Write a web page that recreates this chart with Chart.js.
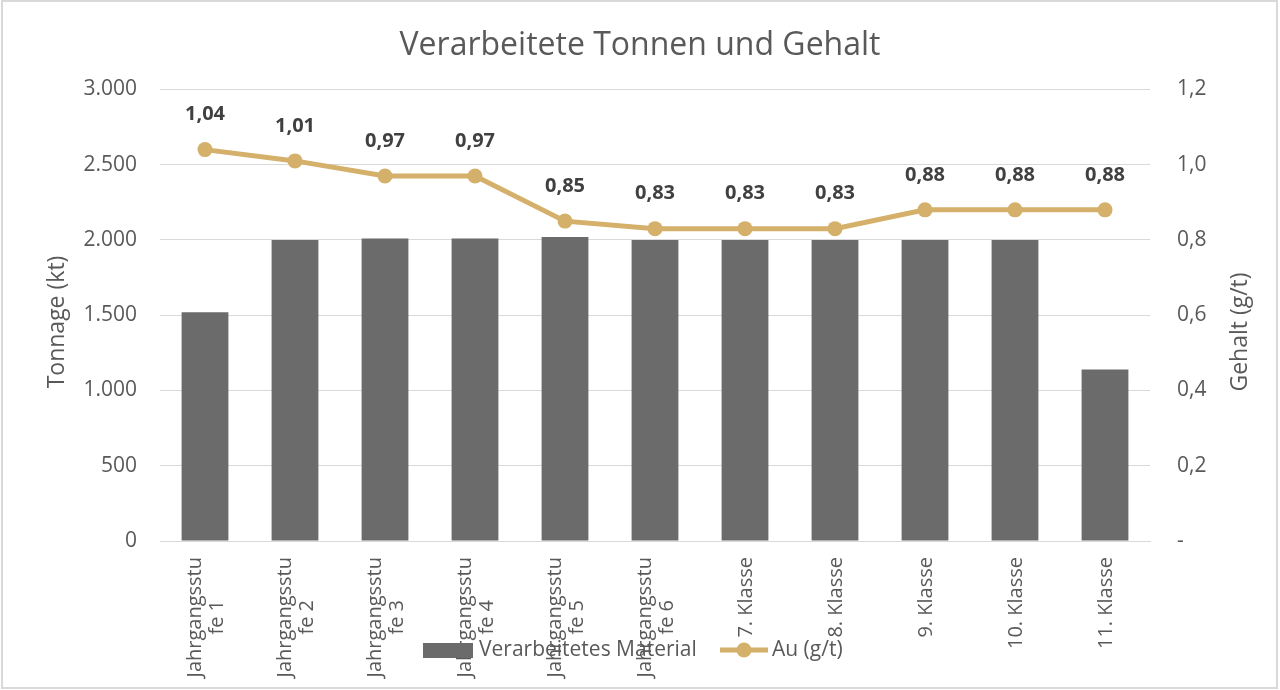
<!DOCTYPE html>
<html>
<head>
<meta charset="utf-8">
<script src="https://cdn.jsdelivr.net/npm/chart.js@4"></script>
<style>
  body { margin: 0; background: #fff; }
  #wrap { width: 1280px; height: 690px; }
</style>
</head>
<body>
<div id="wrap"><canvas id="chart" width="1280" height="690"></canvas></div>
<script>
// categories and values
const categories = [
    ['Jahrgangsstu', 'fe 1'], ['Jahrgangsstu', 'fe 2'], ['Jahrgangsstu', 'fe 3'],
    ['Jahrgangsstu', 'fe 4'], ['Jahrgangsstu', 'fe 5'], ['Jahrgangsstu', 'fe 6'],
    '7. Klasse', '8. Klasse', '9. Klasse', '10. Klasse', '11. Klasse'
];
const tonnage = [1520, 2000, 2010, 2010, 2020, 2000, 2000, 2000, 2000, 2000, 1140];
const gehalt = [1.04, 1.01, 0.97, 0.97, 0.85, 0.83, 0.83, 0.83, 0.88, 0.88, 0.88];
const axisTitles = ['Tonnage (kt)', 'Gehalt (g/t)'];

const barColor = '#6b6b6b';
const lineColor = '#d4b06a';
const textColor = '#595959';
const fontFamily = '"Open Sans", sans-serif';

function deNumber(v, digits) {
    return v.toFixed(digits).replace('.', ',');
}

// values above line points
const pointLabels = {
    id: 'pointLabels',
    afterDatasetsDraw(chart) {
        const meta = chart.getDatasetMeta(1);
        const ctx = chart.ctx;
        ctx.save();
        ctx.font = 'bold 20px ' + fontFamily;
        ctx.fillStyle = '#404040';
        ctx.textAlign = 'center';
        ctx.textBaseline = 'middle';
        meta.data.forEach(function(pt, i) {
            ctx.fillText(deNumber(gehalt[i], 2), pt.x, pt.y - 35);
        });
        ctx.restore();
    }
};

// category labels: rotated, block ends near the axis, lines centred on each other
const xLabels = {
    id: 'xLabels',
    afterDraw(chart) {
        const ctx = chart.ctx;
        const xs = chart.scales.x;
        const lineH = 22;
        ctx.save();
        ctx.font = '20px ' + fontFamily;
        ctx.fillStyle = textColor;
        ctx.textAlign = 'center';
        ctx.textBaseline = 'middle';
        chart.data.labels.forEach(function(label, i) {
            const lines = Array.isArray(label) ? label : [label];
            const w = Math.max.apply(null, lines.map(function(l) { return ctx.measureText(l).width; }));
            const cx = xs.getPixelForTick(i);
            const cy = xs.top + 16 + w / 2;
            lines.forEach(function(l, j) {
                ctx.save();
                ctx.translate(cx + 1 + (j - (lines.length - 1) / 2) * lineH, cy);
                ctx.rotate(-Math.PI / 2);
                ctx.fillText(l, 0, 0);
                ctx.restore();
            });
        });
        ctx.restore();
    }
};

// axis titles (both read bottom to top), legend over the axis labels, frame
const extras = {
    id: 'extras',
    afterDraw(chart) {
        const ctx = chart.ctx;
        ctx.save();
        ctx.strokeStyle = '#d9d9d9';
        ctx.lineWidth = 2;
        ctx.strokeRect(2, 1, 1275, 687);

        ctx.fillStyle = textColor;
        ctx.font = '23px ' + fontFamily;
        ctx.textAlign = 'center';
        ctx.textBaseline = 'middle';
        [[57, 322, axisTitles[0]], [1240, 332, axisTitles[1]]].forEach(function(t) {
            ctx.save();
            ctx.translate(t[0], t[1]);
            ctx.rotate(-Math.PI / 2);
            ctx.fillText(t[2], 0, 0);
            ctx.restore();
        });

        ctx.textAlign = 'left';
        ctx.font = '21px ' + fontFamily;
        ctx.fillStyle = barColor;
        ctx.fillRect(423, 643, 50, 15);
        ctx.fillStyle = textColor;
        ctx.fillText(chart.data.datasets[0].label, 479, 650);

        ctx.strokeStyle = lineColor;
        ctx.lineWidth = 5;
        ctx.beginPath();
        ctx.moveTo(720, 650);
        ctx.lineTo(768, 650);
        ctx.stroke();
        ctx.fillStyle = lineColor;
        ctx.beginPath();
        ctx.arc(744, 650, 7.5, 0, Math.PI * 2);
        ctx.fill();
        ctx.fillStyle = textColor;
        ctx.fillText(chart.data.datasets[1].label, 772, 650);
        ctx.restore();
    }
};

new Chart(document.getElementById('chart'), {
    type: 'bar',
    data: {
        labels: categories,
        datasets: [{
            label: 'Verarbeitetes Material',
            data: tonnage,
            backgroundColor: barColor,
            barPercentage: 0.52,
            categoryPercentage: 1,
            yAxisID: 'y',
            order: 1
        }, {
            type: 'line',
            label: 'Au (g/t)',
            data: gehalt,
            borderColor: lineColor,
            backgroundColor: lineColor,
            borderWidth: 5,
            pointRadius: 7.5,
            pointBackgroundColor: lineColor,
            pointBorderWidth: 0,
            tension: 0,
            yAxisID: 'y1',
            order: 0
        }]
    },
    options: {
        responsive: false,
        animation: false,
        layout: { padding: 0 },
        plugins: {
            legend: { display: false },
            tooltip: { enabled: false },
            title: {
                display: true,
                text: 'Verarbeitete Tonnen und Gehalt',
                color: textColor,
                font: { family: fontFamily, size: 32, weight: 'normal' },
                padding: { top: 27, bottom: 24 }
            }
        },
        scales: {
            x: {
                grid: { display: false },
                border: { color: '#d9d9d9', width: 1 },
                ticks: { display: false },
                afterFit(scale) { scale.height = 149; }
            },
            y: {
                position: 'left',
                min: 0,
                max: 3000,
                ticks: {
                    stepSize: 500,
                    color: textColor,
                    font: { family: fontFamily, size: 21 },
                    padding: 23,
                    callback: function(v) { return v.toLocaleString('de-DE'); }
                },
                grid: { color: '#d9d9d9', drawTicks: false },
                border: { display: false },
                afterFit(scale) { scale.width = 160; }
            },
            y1: {
                position: 'right',
                min: 0,
                max: 1.2,
                ticks: {
                    stepSize: 0.2,
                    color: textColor,
                    font: { family: fontFamily, size: 21 },
                    padding: 27,
                    callback: function(v) { return v === 0 ? '-' : deNumber(v, 1); }
                },
                grid: { display: false, drawTicks: false },
                border: { display: false },
                afterFit(scale) { scale.width = 130; }
            }
        }
    },
    plugins: [pointLabels, xLabels, extras]
});
</script>
</body>
</html>
